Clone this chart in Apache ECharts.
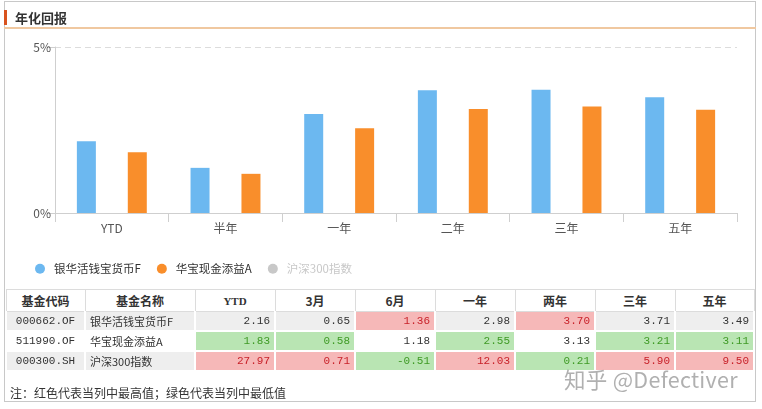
<!DOCTYPE html>
<html><head><meta charset="utf-8">
<script src="https://cdn.jsdelivr.net/npm/echarts@6/dist/echarts.min.js"></script>
<style>
html,body{margin:0;padding:0;background:#fff;}
body{width:762px;height:409px;position:relative;overflow:hidden;font-family:"Noto Sans CJK SC","Noto Sans",sans-serif;color:#333;}
#frame{position:absolute;left:4px;top:1px;width:752px;height:401px;border:1px solid #c8c8c8;box-sizing:border-box;}
#chart{position:absolute;left:0;top:0;width:762px;height:409px;}
#tbar{position:absolute;left:4px;top:10px;width:3px;height:15px;background:#d9531e;}
#ttext{position:absolute;left:15px;top:9px;font-size:13px;font-weight:bold;line-height:17px;color:#333;}
#tline{position:absolute;left:4px;top:27px;width:752px;height:2px;background:#f0c8a0;}
#tbl{position:absolute;left:5px;top:289px;border-collapse:collapse;table-layout:fixed;font-size:11px;}
#tbl th{height:21px;padding:0;border:1px solid #dcdcdc;font-weight:bold;font-size:12px;color:#333;background:#fff;text-align:center;}
#tbl th.en{font-family:"Liberation Serif",serif;font-size:11px;}
#tbl td{height:18px;padding:0 4px;border:2px solid #fff;border-top:0;font-family:"Liberation Mono",monospace;font-size:11px;line-height:18px;white-space:nowrap;overflow:hidden;}
#tbl td.code{text-align:center;}
#tbl td.name{text-align:left;font-family:"Noto Sans CJK SC",sans-serif;font-size:11px;}
#tbl td.num{text-align:right;}
#tbl tr.g td{background:#eeeeee;}
#tbl tr.w td{background:#fff;}
#tbl td.hi{background:#f6b8b8 !important;color:#c8222a;}
#tbl td.lo{background:#b9e5b3 !important;color:#3f9a25;}
#note{position:absolute;left:10px;top:384px;font-size:12px;line-height:18px;color:#333;}
#wm{position:absolute;left:564px;top:364px;font-size:21.5px;line-height:30px;color:rgba(150,150,150,0.75);font-family:"Noto Sans CJK SC",sans-serif;letter-spacing:0.3px;}
</style>
</head>
<body>
<div id="chart"></div>
<div id="frame"></div>
<div id="tbar"></div>
<div id="ttext">年化回报</div>
<div id="tline"></div>
<table id="tbl"></table>
<div id="note">注：红色代表当列中最高值；绿色代表当列中最低值</div>
<div id="wm">知乎 @Defectiver</div>
<script>
// ---- chart data ----
var categories = ['YTD', '半年', '一年', '二年', '三年', '五年'];
var seriesNames = ['银华活钱宝货币F', '华宝现金添益A', '沪深300指数'];
var fundA = [2.16, 1.36, 2.98, 3.70, 3.71, 3.49];
var fundB = [1.83, 1.18, 2.55, 3.13, 3.21, 3.11];
var index300 = [27.97, -0.51, 12.03, 0.21, 5.90, 9.50];
var yTicks = [0, 5];

// ---- table data ----
var tableHeaders = ['基金代码', '基金名称', 'YTD', '3月', '6月', '一年', '两年', '三年', '五年'];
var codes = ['000662.OF', '511990.OF', '000300.SH'];
var names = ['银华活钱宝货币F', '华宝现金添益A', '沪深300指数'];
var rowA = ['2.16', '0.65', '1.36', '2.98', '3.70', '3.71', '3.49'];
var rowB = ['1.83', '0.58', '1.18', '2.55', '3.13', '3.21', '3.11'];
var rowC = ['27.97', '0.71', '-0.51', '12.03', '0.21', '5.90', '9.50'];

// build table
(function () {
  var widths = [79, 110, 80, 80, 80, 80, 80, 80, 79];
  var rows = [rowA, rowB, rowC];
  var tbl = document.getElementById('tbl');
  var cg = document.createElement('colgroup');
  widths.forEach(function (w) { var c = document.createElement('col'); c.style.width = w + 'px'; cg.appendChild(c); });
  tbl.appendChild(cg);
  var hr = document.createElement('tr');
  tableHeaders.forEach(function (h) {
    var th = document.createElement('th'); th.textContent = h;
    if (/^[A-Z]+$/.test(h)) th.className = 'en';
    hr.appendChild(th);
  });
  tbl.appendChild(hr);
  var nCols = rowA.length;
  var maxs = [], mins = [];
  for (var j = 0; j < nCols; j++) {
    var vals = rows.map(function (r) { return parseFloat(r[j]); });
    maxs.push(Math.max.apply(null, vals)); mins.push(Math.min.apply(null, vals));
  }
  rows.forEach(function (r, i) {
    var tr = document.createElement('tr');
    tr.className = (i % 2 === 0) ? 'g' : 'w';
    var c1 = document.createElement('td'); c1.className = 'code'; c1.textContent = codes[i]; tr.appendChild(c1);
    var c2 = document.createElement('td'); c2.className = 'name'; c2.textContent = names[i]; tr.appendChild(c2);
    r.forEach(function (v, j) {
      var td = document.createElement('td'); td.className = 'num'; td.textContent = v;
      var f = parseFloat(v);
      if (f === maxs[j]) td.className += ' hi';
      else if (f === mins[j]) td.className += ' lo';
      tr.appendChild(td);
    });
    tbl.appendChild(tr);
  });
})();

var chart = echarts.init(document.getElementById('chart'), null, { renderer: 'canvas' });
var seriesData = [fundA, fundB, index300];
var colors = ['#6cb8f0', '#f98e2b', '#c8c8c8'];
var sel = {}; sel[seriesNames[2]] = false;
chart.setOption({
  animation: false,
  textStyle: { fontFamily: '"Noto Sans CJK SC","Noto Sans",sans-serif' },
  color: colors,
  grid: { left: 55, right: 25, top: 47, bottom: 196, containLabel: false },
  legend: {
    data: seriesNames, selected: sel, left: 30, top: 258, icon: 'circle',
    itemWidth: 18, itemHeight: 10, itemGap: 16,
    textStyle: { fontSize: 11.5, color: '#333' }, inactiveColor: '#c8c8c8'
  },
  xAxis: {
    type: 'category', data: categories,
    axisLine: { lineStyle: { color: '#cfcfcf' } },
    axisTick: { show: true, length: 9, lineStyle: { color: '#cfcfcf' } },
    axisLabel: { color: '#555', fontSize: 12, margin: 9 }
  },
  yAxis: {
    type: 'value', min: yTicks[0], max: yTicks[yTicks.length - 1], interval: 5,
    axisLine: { show: true, lineStyle: { color: '#cfcfcf' } },
    axisTick: { show: true, length: 8, lineStyle: { color: '#cfcfcf' } },
    axisLabel: { color: '#555', fontSize: 12, margin: 4, formatter: '{value}%' },
    splitLine: { show: true, lineStyle: { color: '#dcdcdc', type: [6, 4] } }
  },
  series: seriesNames.map(function (n, i) {
    return { name: n, type: 'bar', data: seriesData[i], barWidth: 19, barGap: '168%' };
  })
});
</script>
</body></html>
